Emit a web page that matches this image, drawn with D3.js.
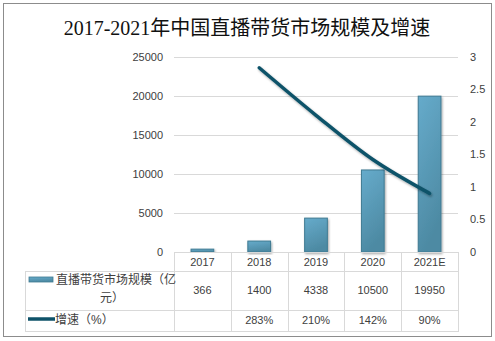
<!DOCTYPE html>
<html><head><meta charset="utf-8">
<script src="https://cdn.jsdelivr.net/npm/d3@7"></script>
<style>
body{margin:0;background:#fff;}
svg{display:block;font-family:"Liberation Sans","Noto Sans CJK SC",sans-serif;}
</style></head>
<body><svg id="c" width="495" height="341"></svg>
<script>
const title = "2017-2021年中国直播带货市场规模及增速";
const categories = ["2017","2018","2019","2020","2021E"];
const marketSize = [366,1400,4338,10500,19950];
const growth = [null,2.83,2.10,1.42,0.90];
const growthLabels = ["","283%","210%","142%","90%"];
const leftTicks = [0,5000,10000,15000,20000,25000];
const rightTicks = [0,0.5,1,1.5,2,2.5,3];
const seriesNames = ["直播带货市场规模（亿元）","增速（%）"];

const svg = d3.select("#c");
const W=495,H=341;
const plotL=174, plotR=458, plotT=56.7, plotB=252;
const tableL=25, row1B=271, row2B=310, row3B=331;

// frame
svg.append("rect").attr("x",3.5).attr("y",3.5).attr("width",488).attr("height",333)
  .attr("fill","#fff").attr("stroke","#8c8c8c").attr("stroke-width",1);

// gradient
const defs = svg.append("defs");
const g = defs.append("linearGradient").attr("id","bg").attr("x1","0").attr("y1","0").attr("x2","0.3").attr("y2","1");
g.append("stop").attr("offset","0").attr("stop-color","#66abcb");
g.append("stop").attr("offset","1").attr("stop-color","#4d8aa3");
const f = defs.append("filter").attr("id","sh").attr("x","-20%").attr("y","-20%").attr("width","140%").attr("height","140%");
f.append("feDropShadow").attr("dx",1).attr("dy",1.5).attr("stdDeviation",1).attr("flood-color","#000").attr("flood-opacity",0.35);

const x = d3.scaleBand().domain(categories).range([plotL,plotR]).paddingInner(0.6).paddingOuter(0.3);
const xc = d3.scaleBand().domain(categories).range([plotL,plotR]);
const yL = d3.scaleLinear().domain([0,25000]).range([plotB,plotT]);
const yR = d3.scaleLinear().domain([0,3]).range([plotB,plotT]);

// title
svg.append("text").attr("x",247).attr("y",35).attr("text-anchor","middle")
  .attr("font-family",'"Liberation Serif","Noto Sans CJK SC",serif')
  .attr("font-size",20).attr("fill","#111").text(title);

// gridlines
svg.append("g").selectAll("line").data(leftTicks.slice(1)).join("line")
  .attr("x1",plotL).attr("x2",plotR).attr("y1",d=>Math.round(yL(d))+0.5).attr("y2",d=>Math.round(yL(d))+0.5)
  .attr("stroke","#d9d9d9");

// left axis
const axL = d3.axisLeft(yL).tickValues(leftTicks).tickSize(0).tickPadding(11).tickFormat(d3.format("d"));
const gl = svg.append("g").attr("transform",`translate(${plotL},0)`).call(axL);
gl.select(".domain").remove();
gl.selectAll("text").attr("font-size",11).attr("fill","#404040");

// right axis
const axR = d3.axisRight(yR).tickValues(rightTicks).tickSize(0).tickPadding(12).tickFormat(d=>String(d));
const gr = svg.append("g").attr("transform",`translate(${plotR},0)`).call(axR);
gr.select(".domain").remove();
gr.selectAll("text").attr("font-size",11).attr("fill","#404040");

// bars
svg.append("g").selectAll("rect").data(marketSize).join("rect")
  .attr("x",(d,i)=>x(categories[i])).attr("width",x.bandwidth())
  .attr("y",d=>yL(d)).attr("height",d=>plotB-yL(d))
  .attr("fill","url(#bg)").attr("stroke","#3f7a92").attr("stroke-width",1)
  .attr("filter","url(#sh)");

// line
const pts = growth.map((v,i)=>[categories[i],v]).filter(d=>d[1]!=null);
svg.append("path").datum(pts)
  .attr("d",d3.line().x(d=>xc(d[0])+xc.bandwidth()/2).y(d=>yR(d[1])).curve(d3.curveMonotoneX))
  .attr("fill","none").attr("stroke","#0e5269").attr("stroke-width",3.5).attr("stroke-linecap","round")
  .attr("filter","url(#sh)");

// table
const tg = svg.append("g").attr("stroke","#d9d9d9").attr("stroke-width",1);
const hl = (y,x1,x2)=>tg.append("line").attr("x1",x1).attr("x2",x2).attr("y1",y+0.5).attr("y2",y+0.5);
const vl = (xx,y1,y2)=>tg.append("line").attr("x1",xx+0.5).attr("x2",xx+0.5).attr("y1",y1).attr("y2",y2);
hl(plotB,plotL,plotR);
hl(row1B,tableL,plotR);
hl(row2B,tableL,plotR);
hl(row3B,tableL,plotR);
vl(tableL,row1B,row3B+1);
categories.forEach((c,i)=>vl(Math.round(xc(c)),plotB,row3B+1));
vl(plotR,plotB,row3B+1);

const cx = i=>xc(categories[i])+xc.bandwidth()/2;
const tt = svg.append("g").attr("font-size",11).attr("fill","#404040").attr("text-anchor","middle");
categories.forEach((c,i)=>tt.append("text").attr("x",cx(i)).attr("y",266).text(c));
marketSize.forEach((v,i)=>tt.append("text").attr("x",cx(i)).attr("y",294).text(v));
growthLabels.forEach((v,i)=>tt.append("text").attr("x",cx(i)).attr("y",324).text(v));

// legend
svg.append("rect").attr("x",29).attr("y",277).attr("width",24).attr("height",5)
  .attr("fill","url(#bg)").attr("stroke","#3f7a92").attr("stroke-width",0.8);
svg.append("text").attr("x",56).attr("y",284).attr("font-size",12).attr("fill","#404040")
  .text(seriesNames[0].slice(0,10));
svg.append("text").attr("x",112).attr("y",302).attr("font-size",12).attr("fill","#404040").attr("text-anchor","middle")
  .text(seriesNames[0].slice(10));
svg.append("line").attr("x1",28).attr("x2",55).attr("y1",319).attr("y2",319)
  .attr("stroke","#0e5269").attr("stroke-width",3.5);
svg.append("text").attr("x",55).attr("y",324).attr("font-size",12).attr("fill","#404040")
  .text(seriesNames[1]);
</script></body></html>
